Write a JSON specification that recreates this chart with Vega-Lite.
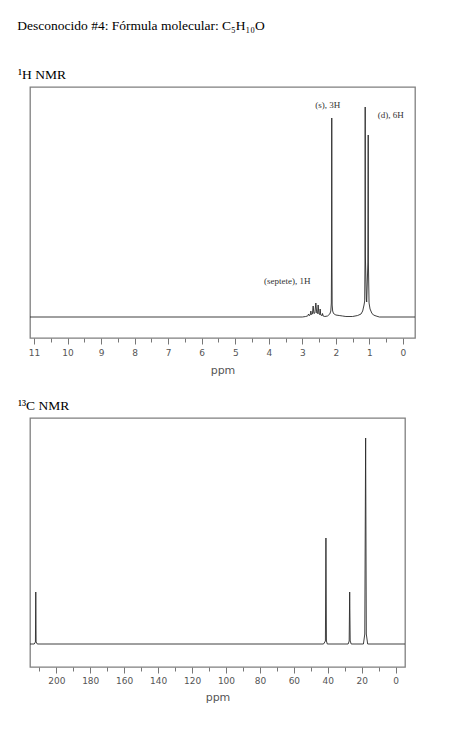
{
  "$schema": "https://vega.github.io/schema/vega-lite/v6.json",
  "background": "white",
  "padding": {"left": 17, "top": 19, "right": 0, "bottom": 0},
  "config": {"view": {"stroke": "#7f7f7f", "strokeWidth": 1.3}},
  "title": {"text": "Desconocido #4: Fórmula molecular: C₅H₁₀O", "anchor": "start", "font": "Liberation Serif", "fontSize": 13.5, "fontWeight": "normal", "color": "#000000", "offset": 34},
  "spacing": 21,
  "datasets": {
    "h": [
      {"ppm": 11.12, "i": 0}, {"ppm": 3.0, "i": 0}, {"ppm": 2.9, "i": 0.5}, {"ppm": 2.85, "i": 1}, {"ppm": 2.83, "i": 1.5},
      {"ppm": 2.815, "i": 3}, {"ppm": 2.8, "i": 1.5}, {"ppm": 2.765, "i": 2}, {"ppm": 2.746, "i": 6}, {"ppm": 2.728, "i": 2.5},
      {"ppm": 2.7, "i": 3}, {"ppm": 2.677, "i": 11}, {"ppm": 2.655, "i": 3.5}, {"ppm": 2.625, "i": 4}, {"ppm": 2.597, "i": 14},
      {"ppm": 2.57, "i": 4}, {"ppm": 2.545, "i": 3.5}, {"ppm": 2.528, "i": 12}, {"ppm": 2.505, "i": 3}, {"ppm": 2.48, "i": 2.5},
      {"ppm": 2.468, "i": 8}, {"ppm": 2.45, "i": 2}, {"ppm": 2.41, "i": 1.5}, {"ppm": 2.397, "i": 3.5}, {"ppm": 2.38, "i": 1},
      {"ppm": 2.33, "i": 0.5}, {"ppm": 2.25, "i": 1}, {"ppm": 2.18, "i": 3}, {"ppm": 2.15, "i": 6}, {"ppm": 2.135, "i": 14},
      {"ppm": 2.127, "i": 67}, {"ppm": 2.122, "i": 199}, {"ppm": 2.117, "i": 67}, {"ppm": 2.11, "i": 12}, {"ppm": 2.095, "i": 6},
      {"ppm": 2.07, "i": 3.5}, {"ppm": 2.0, "i": 2}, {"ppm": 1.9, "i": 1.5}, {"ppm": 1.8, "i": 1}, {"ppm": 1.7, "i": 0.5},
      {"ppm": 1.5, "i": 0.5}, {"ppm": 1.35, "i": 1.5}, {"ppm": 1.25, "i": 3}, {"ppm": 1.2, "i": 6}, {"ppm": 1.16, "i": 12},
      {"ppm": 1.14, "i": 16}, {"ppm": 1.13, "i": 61}, {"ppm": 1.125, "i": 210}, {"ppm": 1.12, "i": 61}, {"ppm": 1.09, "i": 18},
      {"ppm": 1.08, "i": 15}, {"ppm": 1.045, "i": 55}, {"ppm": 1.035, "i": 182}, {"ppm": 1.03, "i": 55}, {"ppm": 1.01, "i": 14},
      {"ppm": 0.98, "i": 8}, {"ppm": 0.93, "i": 4}, {"ppm": 0.88, "i": 2}, {"ppm": 0.8, "i": 1}, {"ppm": 0.7, "i": 0},
      {"ppm": -0.36, "i": 0}
    ],
    "hlab": [
      {"ppm": 2.24, "i": 212, "label": "(s), 3H"},
      {"ppm": 0.36, "i": 202, "label": "(d), 6H"},
      {"ppm": 3.45, "i": 36, "label": "(septete), 1H"}
    ],
    "c": [
      {"ppm": 215.5, "i": 0}, {"ppm": 213, "i": 0}, {"ppm": 212.3, "i": 2}, {"ppm": 212.1, "i": 52}, {"ppm": 211.9, "i": 2},
      {"ppm": 211.2, "i": 0}, {"ppm": 42.5, "i": 0}, {"ppm": 41.4, "i": 3}, {"ppm": 41.1, "i": 106}, {"ppm": 40.8, "i": 3},
      {"ppm": 40.3, "i": 0}, {"ppm": 28, "i": 0}, {"ppm": 27.4, "i": 3}, {"ppm": 27.1, "i": 52}, {"ppm": 26.8, "i": 3},
      {"ppm": 26.2, "i": 0}, {"ppm": 19, "i": 0}, {"ppm": 18.2, "i": 10}, {"ppm": 17.7, "i": 206}, {"ppm": 17.3, "i": 10},
      {"ppm": 16.5, "i": 0}, {"ppm": -5.5, "i": 0}
    ]
  },
  "vconcat": [
    {
      "width": 385,
      "height": 251,
      "title": {"text": "¹H NMR", "anchor": "start", "frame": "group", "dx": -12, "font": "Liberation Serif", "fontSize": 13.5, "fontWeight": "normal", "color": "#000000", "offset": 6},
      "resolve": {"axis": {"x": "independent"}},
      "layer": [
        {
          "data": {"name": "h"},
          "mark": {"type": "line", "color": "#2a2a2a", "strokeWidth": 0.9, "clip": true, "interpolate": "linear"},
          "encoding": {
            "x": {"field": "ppm", "type": "quantitative", "sort": null,
              "scale": {"domain": [-0.36, 11.12], "reverse": true, "nice": false, "zero": false},
              "axis": {"orient": "bottom", "values": [0,1,2,3,4,5,6,7,8,9,10,11], "format": "d", "tickSize": 6, "tickColor": "#777777", "tickWidth": 1, "domain": false, "grid": false, "labelFont": "DejaVu Sans", "labelFontSize": 9, "labelColor": "#555555", "labelPadding": 4, "labelOverlap": false, "title": "ppm", "titleFont": "DejaVu Sans", "titleFontSize": 11, "titleFontWeight": "normal", "titleColor": "#555555", "titlePadding": 7}},
            "y": {"field": "i", "type": "quantitative", "scale": {"domain": [-21, 230], "nice": false, "zero": false}, "axis": null}
          }
        },
        {
          "data": {"name": "hlab"},
          "mark": {"type": "text", "font": "Liberation Serif", "fontSize": 9, "color": "#333333", "align": "center", "baseline": "middle"},
          "encoding": {
            "x": {"field": "ppm", "type": "quantitative",
              "axis": {"orient": "bottom", "values": [0.5,1.5,2.5,3.5,4.5,5.5,6.5,7.5,8.5,9.5,10.5], "tickSize": 4, "tickColor": "#777777", "tickWidth": 1, "domain": false, "grid": false, "labels": false, "title": null}},
            "y": {"field": "i", "type": "quantitative"},
            "text": {"field": "label"}
          }
        }
      ]
    },
    {
      "width": 375,
      "height": 249,
      "title": {"text": "¹³C NMR", "anchor": "start", "frame": "group", "dx": -12, "font": "Liberation Serif", "fontSize": 13.5, "fontWeight": "normal", "color": "#000000", "offset": 6},
      "resolve": {"axis": {"x": "independent"}},
      "layer": [
        {
          "data": {"name": "c"},
          "mark": {"type": "line", "color": "#2a2a2a", "strokeWidth": 0.9, "clip": true},
          "encoding": {
            "x": {"field": "ppm", "type": "quantitative", "sort": null,
              "scale": {"domain": [-5.5, 215.5], "reverse": true, "nice": false, "zero": false},
              "axis": {"orient": "bottom", "values": [0,20,40,60,80,100,120,140,160,180,200], "format": "d", "tickSize": 6, "tickColor": "#777777", "tickWidth": 1, "domain": false, "grid": false, "labelFont": "DejaVu Sans", "labelFontSize": 9, "labelColor": "#555555", "labelPadding": 3.5, "labelOverlap": false, "title": "ppm", "titleFont": "DejaVu Sans", "titleFontSize": 11, "titleFontWeight": "normal", "titleColor": "#555555", "titlePadding": 6}},
            "y": {"field": "i", "type": "quantitative", "scale": {"domain": [-23, 226], "nice": false, "zero": false}, "axis": null}
          }
        },
        {
          "data": {"name": "c"},
          "mark": {"type": "point", "opacity": 0, "size": 1},
          "encoding": {
            "x": {"field": "ppm", "type": "quantitative",
              "axis": {"orient": "bottom", "values": [10,30,50,70,90,110,130,150,170,190,210], "tickSize": 4, "tickColor": "#777777", "tickWidth": 1, "domain": false, "grid": false, "labels": false, "title": null}},
            "y": {"field": "i", "type": "quantitative"}
          }
        }
      ]
    }
  ]
}
